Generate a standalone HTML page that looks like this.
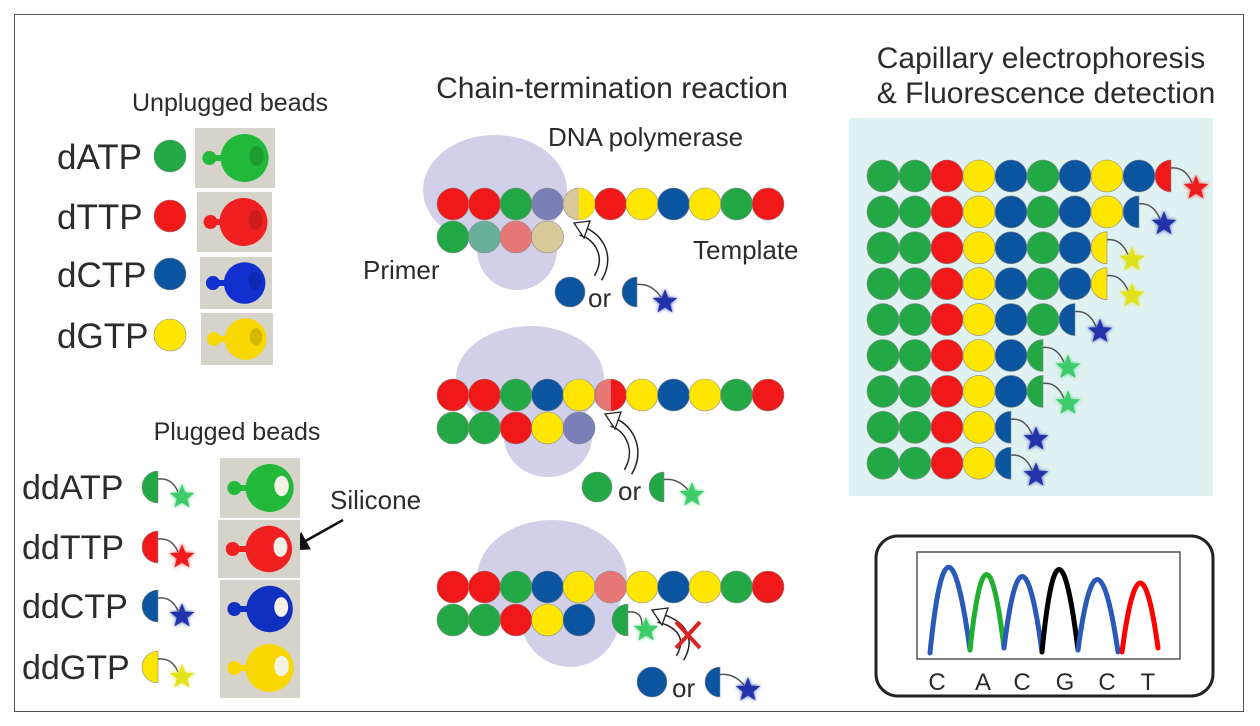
<!DOCTYPE html>
<html><head><meta charset="utf-8"><style>
html,body{margin:0;padding:0;background:#fff}
svg{display:block}
text{font-family:"Liberation Sans",Arial,sans-serif;fill:#2b2b2b}
</style></head><body>
<svg id="s" width="1260" height="726" viewBox="0 0 1260 726" xmlns="http://www.w3.org/2000/svg">
<defs>
<filter id="glow" x="-50%" y="-50%" width="200%" height="200%"><feGaussianBlur stdDeviation="1.8"/></filter>
<marker id="ah" markerWidth="8" markerHeight="8" refX="6" refY="4" orient="auto"><path d="M0,0 L8,4 L0,8 z" fill="#111"/></marker>
</defs>
<rect x="14.5" y="14.5" width="1229" height="697" fill="#fff" stroke="#555" stroke-width="1"/>
<g id="bg"></g>
<text x="230" y="111" font-size="25" text-anchor="middle">Unplugged beads</text>
<text x="237" y="440" font-size="25" text-anchor="middle">Plugged beads</text>
<text x="612" y="98" font-size="30" text-anchor="middle">Chain-termination reaction</text>
<text x="1041" y="68" font-size="30" text-anchor="middle">Capillary electrophoresis</text>
<text x="1046" y="103" font-size="30" text-anchor="middle">&amp; Fluorescence detection</text>
<text x="548" y="146" font-size="26">DNA polymerase</text>
<text x="363" y="279" font-size="26">Primer</text>
<text x="693" y="259" font-size="26">Template</text>
<text x="330" y="509" font-size="26">Silicone</text>
<text x="57" y="169" font-size="35">dATP</text>
<text x="57" y="229" font-size="35">dTTP</text>
<text x="57" y="287" font-size="35">dCTP</text>
<text x="57" y="348" font-size="35">dGTP</text>
<text x="22" y="499" font-size="34">ddATP</text>
<text x="22" y="559" font-size="34">ddTTP</text>
<text x="22" y="618" font-size="34">ddCTP</text>
<text x="22" y="679" font-size="34">ddGTP</text>
<text x="588" y="307" font-size="26">or</text>
<text x="618" y="500" font-size="26">or</text>
<text x="672" y="697" font-size="26">or</text>
<line x1="343" y1="520" x2="293" y2="548" stroke="#111" stroke-width="2.5" marker-end="url(#ah)"/>
<rect x="849" y="118" width="364" height="378" fill="#dff2f1"/>
<g id="g"></g>
<rect x="876" y="536" width="337" height="160" rx="22" fill="#fff" stroke="#222" stroke-width="3"/>
<rect x="917" y="552" width="263" height="107" fill="#fff" stroke="#555" stroke-width="1.5"/>
<g fill="none" stroke-width="5" stroke-linecap="round" stroke-linejoin="round">
<path d="M930,653 Q947,483 970,650" stroke="#2a59b8"/>
<path d="M970,650 Q986,500 1004,648" stroke="#1fb030"/>
<path d="M1004,648 Q1022,503 1042,652" stroke="#2a59b8"/>
<path d="M1042,652 Q1058,488 1078,650" stroke="#000"/>
<path d="M1078,650 Q1097,508 1118,652" stroke="#2a59b8"/>
<path d="M1122,652 Q1140,516 1158,648" stroke="#f00"/>
</g>
<g font-size="24" text-anchor="middle">
<text x="937" y="690">C</text><text x="983" y="690">A</text><text x="1022" y="690">C</text><text x="1065" y="690">G</text><text x="1107" y="690">C</text><text x="1148" y="690">T</text>
</g>
</svg>
<script>
const NS="http://www.w3.org/2000/svg";const S=document.getElementById('s');
const C={G:'#22a845',R:'#f01818',B:'#0b55a0',Y:'#ffe600',L:'#7b7fb8',P:'#e87878',T:'#d8c89a',M:'#69b09a'};
const SC={G:'#3ccc6a',R:'#ee1b1b',B:'#2233aa',Y:'#e2e21a'};
function el(t,a,p){const e=document.createElementNS(NS,t);for(const k in a)e.setAttribute(k,a[k]);(p||S).appendChild(e);return e;}
function circ(cx,cy,col,r=16,p){el('circle',{cx,cy,r,fill:C[col]||col,stroke:'#8a8a8a','stroke-width':0.6},p);}
function star(cx,cy,col,r=13,p){let pts=[];for(let i=0;i<10;i++){const a=-Math.PI/2+i*Math.PI/5,rr=i%2?r*0.42:r;pts.push((cx+rr*Math.cos(a)).toFixed(1)+','+(cy+rr*Math.sin(a)).toFixed(1));}
 el('polygon',{points:pts.join(' '),fill:SC[col],filter:'url(#glow)',opacity:0.9},p);el('polygon',{points:pts.join(' '),fill:SC[col]},p);}
function dd(x,cy,col,r=16,p,sx,sy){
 el('path',{d:`M${x},${cy-r} A${r},${r} 0 0 0 ${x},${cy+r} Z`,fill:C[col],stroke:'#8a8a8a','stroke-width':0.6},p);
 sx=sx||x+24;sy=sy||cy+10;
 el('path',{d:`M${x},${cy-r*0.5} Q${x+14},${cy-r*0.6} ${sx-4},${sy-5}`,fill:'none',stroke:'#555','stroke-width':1.5},p);
 star(sx,sy,col,13,p);}
const bg=document.getElementById('bg');
[[495,190,72,55],[517,250,40,40],[530,378,74,52],[548,437,44,40],[552,578,75,58],[570,615,50,52]].forEach(b=>el('ellipse',{cx:b[0],cy:b[1],rx:b[2],ry:b[3],fill:'#d2cfe8'},bg));
[['G',156],['R',216],['B',274],['Y',335]].forEach(([c,y])=>circ(170,y,c));
function photo(x,y,w,h,col,plug){el('rect',{x,y,width:w,height:h,fill:'#d6d3ca'});
 const cx=x+w*0.62,cy=y+h*0.5;el('circle',{cx:x+w*0.18,cy,r:7,fill:col});el('rect',{x:x+w*0.18,y:cy-3,width:w*0.3,height:6,fill:col});
 el('circle',{cx,cy,r:h*0.4,fill:col});el('ellipse',{cx:cx+h*0.2,cy:cy-2,rx:h*0.12,ry:h*0.17,fill:plug?'#f4f1e6':'rgba(0,0,0,0.15)'});}
photo(195,128,80,60,'#22b83a');photo(197,192,75,60,'#f02020');photo(200,257,72,52,'#1030d0');photo(201,313,72,52,'#f8d800');
photo(220,458,80,60,'#22b83a',1);photo(218,520,82,58,'#f02020',1);photo(220,580,80,58,'#1030c0',1);photo(220,638,80,60,'#f8d800',1);
[['G',487],['R',547],['B',606],['Y',667]].forEach(([c,y])=>dd(158,y,c,16,S,182,y+10));
function row(cols,cy,x0=453){cols.split('').forEach((c,i)=>circ(x0+i*31.5,cy,c));}
row('RRGLTRYBYGR',204);row('GMPT',237);
row('RRGBYRYBYGR',395);row('GGRYL',428);
row('RRGBYPYBYGR',587);row('GGRYB',620);dd(628,620,'G',16,S,646,630);
el('path',{d:'M579,188 A16,16 0 0 1 579,220 Z',fill:'#ffe600'});
el('path',{d:'M611,379 A16,16 0 0 0 611,411 Z',fill:'#e87878'});
function carr(x1,y1,x2,y2){const d=`M${x2},${y2} C${x2+15},${y2-25} ${x1+20},${y1+10} ${x1+6},${y1+8}`;
 el('path',{d,fill:'none',stroke:'#222','stroke-width':10});
 el('path',{d,fill:'none',stroke:'#fff','stroke-width':7});
 el('path',{d:`M${x1},${y1} l16,-2 l-6,17 z`,fill:'#fff',stroke:'#222','stroke-width':1.3});}
carr(574,223,598,278);carr(605,414,628,472);carr(652,610,680,658);
el('path',{d:'M676,622 L700,648 M700,622 L676,648',stroke:'#d22',"stroke-width":4});
circ(570,292,'B',15);dd(637,292,'B',15,S,665,302);
circ(597,487,'G',15);dd(664,487,'G',15,S,692,495);
circ(652,682,'B',15);dd(720,682,'B',15,S,748,690);
const g=document.getElementById('g');const seq='GGRYBGBYB';
const rows=[[9,'R'],[8,'B'],[7,'Y'],[7,'Y'],[6,'B'],[5,'G'],[5,'G'],[4,'B'],[4,'B']];
rows.forEach(([n,c],j)=>{const cy=176+j*35.9;for(let i=0;i<n;i++)circ(883+i*32,cy,seq[i],16,g);
 const x=883+n*32;dd(x,cy,c,16,g,x+25,cy+12);});
</script>
</body></html>
